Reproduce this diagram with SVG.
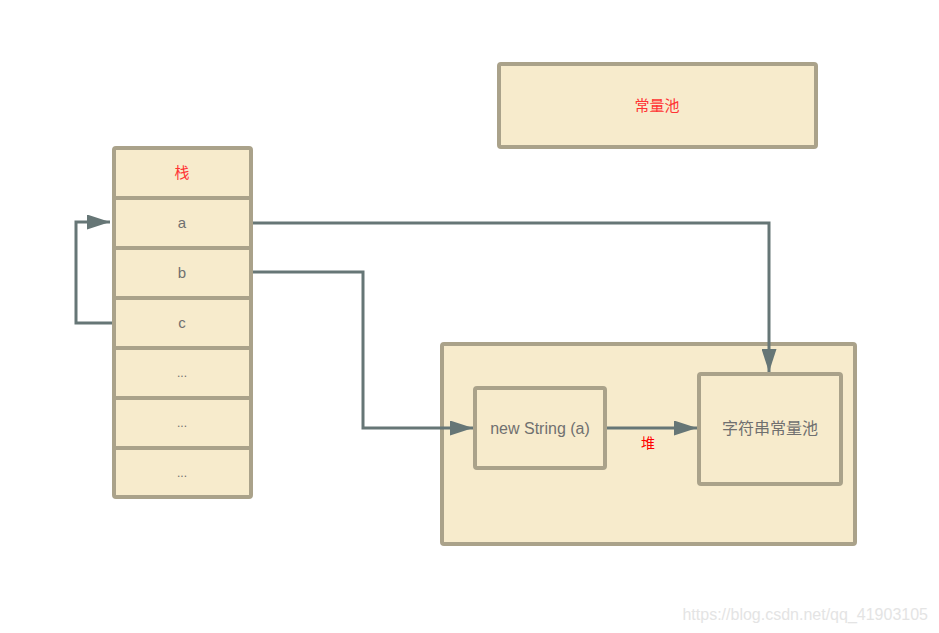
<svg xmlns="http://www.w3.org/2000/svg" width="939" height="633" viewBox="0 0 939 633">
<defs>
<marker id="ah" viewBox="0 0 10 10" refX="10" refY="5" markerWidth="23" markerHeight="15" markerUnits="userSpaceOnUse" orient="auto" preserveAspectRatio="none">
<path d="M0,0 L10,5 L0,10 Z" fill="#667676"/>
</marker>
</defs>
<style>
.box{fill:#f7ebcc;stroke:#aaa28a;stroke-width:4;}
.t{font-family:"Liberation Sans","Noto Sans CJK SC",sans-serif;font-size:15px;fill:#707070;text-anchor:middle;dominant-baseline:central;}
.r{fill:#ff3333;}
.c{fill:none;stroke:#667676;stroke-width:3;}
</style>
<rect width="939" height="633" fill="#fff"/>
<g id="pool">
<rect class="box" x="499" y="64" width="317" height="83" rx="2"/>
<text class="t r" x="657" y="105" style="font-size:15px">常量池</text>
</g>
<g id="stack">
<rect class="box" x="114" y="148" width="137" height="349" rx="2"/>
<line x1="114" y1="198" x2="251" y2="198" stroke="#aaa28a" stroke-width="4"/>
<line x1="114" y1="248" x2="251" y2="248" stroke="#aaa28a" stroke-width="4"/>
<line x1="114" y1="298" x2="251" y2="298" stroke="#aaa28a" stroke-width="4"/>
<line x1="114" y1="348" x2="251" y2="348" stroke="#aaa28a" stroke-width="4"/>
<line x1="114" y1="398" x2="251" y2="398" stroke="#aaa28a" stroke-width="4"/>
<line x1="114" y1="448" x2="251" y2="448" stroke="#aaa28a" stroke-width="4"/>
<text class="t r" x="182" y="172">栈</text>
<text class="t" x="182" y="222">a</text>
<text class="t" x="182" y="272">b</text>
<text class="t" x="182" y="322">c</text>
<text class="t" x="182" y="373" style="font-size:12px">...</text>
<text class="t" x="182" y="423" style="font-size:12px">...</text>
<text class="t" x="182" y="473" style="font-size:12px">...</text>
</g>
<g id="heap">
<rect class="box" x="442" y="344" width="413" height="200" rx="2"/>
</g>
<g id="newString">
<rect class="box" x="475" y="388" width="130" height="80" rx="2"/>
<text class="t" x="540" y="428" style="font-size:16px">new String (a)</text>
</g>
<g id="stringPool">
<rect class="box" x="699" y="374" width="142" height="110" rx="2"/>
<text class="t" x="770" y="428" style="font-size:16px">字符串常量池</text>
</g>
<g id="connectors">
<polyline class="c" points="112,323 76,323 76,222 110,222" marker-end="url(#ah)"/>
<polyline class="c" points="253,223 769,223 769,372" marker-end="url(#ah)"/>
<polyline class="c" points="253,272 363,272 363,428 473,428" marker-end="url(#ah)"/>
<line class="c" x1="607" y1="428" x2="697" y2="428" stroke-width="5" marker-end="url(#ah)"/>
<text class="t" x="648" y="443" style="fill:#ff0000;font-size:14px">堆</text>
</g>
<text x="928" y="614" style="font-family:'Liberation Sans',sans-serif;font-size:16px;fill:#e4e4e4;text-anchor:end;dominant-baseline:central">https://blog.csdn.net/qq_41903105</text>
</svg>
